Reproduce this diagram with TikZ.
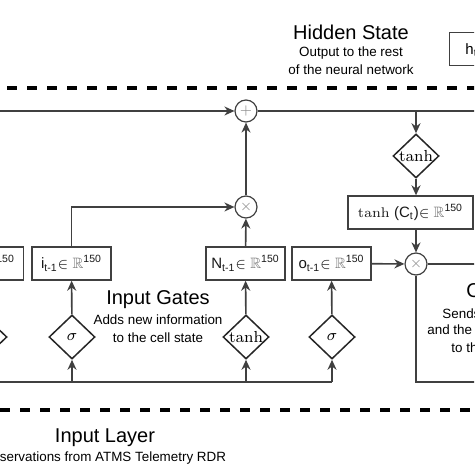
\documentclass[tikz,border=0pt]{standalone}
\usepackage[no-math]{fontspec}
\setmainfont{Liberation Sans}
\usepackage{amssymb}
\usetikzlibrary{shapes.geometric,arrows.meta}
\newcommand{\RR}{{\color{black!55}$\mathbb{R}$}}
\tikzset{
  conn/.style={draw=black!75, line width=0.8pt},
  arr/.style={conn, -{Stealth[length=5pt,width=4.5pt]}},
  sepline/.style={draw=black, line width=2pt, dash pattern=on 5pt off 5pt},
  vbox/.style={draw=black!75, line width=0.7pt, minimum width=39.5pt, minimum height=16.5pt, inner sep=0pt, font=\fontsize{7.5}{9}\selectfont, text=black!90},
  gate/.style={draw=black!85, line width=0.75pt, diamond, minimum width=23pt, minimum height=22pt, inner sep=0pt},
  gatelbl/.style={font=\fontsize{8}{9}\selectfont, inner sep=0pt},
  op/.style={draw=black!75, line width=0.6pt, circle, minimum size=11pt, inner sep=0pt, text=black!45, font=\fontsize{7}{8}\selectfont},
  title/.style={font=\fontsize{10}{12}\selectfont, inner sep=0pt},
  note/.style={font=\fontsize{6.7}{8}\selectfont, inner sep=0pt},
}
\begin{document}
\begin{tikzpicture}[x=0.5pt,y=-0.5pt]
\useasboundingbox (0,0) rectangle (474,474);
\clip (0,0) rectangle (474,474);
\fill[white] (0,0) rectangle (474,474);

% separators
\coordinate (st1) at (-13,88); \coordinate (st2) at (490,88);
\coordinate (sb1) at (-20,410); \coordinate (sb2) at (490,410);
\draw[sepline] (st1) -- (st2);
\draw[sepline] (sb1) -- (sb2);

% titles
\node[title] (hs) at (351,32) {Hidden State};
\node[note] (hs1) at (351,53) {Output to the rest};
\node[note] (hs2) at (351,70) {of the neural network};
\node[draw=black!75, line width=0.7pt, anchor=north west, minimum width=60pt, minimum height=16.5pt] (hbox) at (449,32) {};
\node[font=\fontsize{7.5}{9}\selectfont, anchor=west, inner sep=0pt] (hlbl) at (465,49) {h\textsubscript{t}$\in$ \RR\textsuperscript{150}};

\node[title] (ig1) at (158,300) {Input Gates};
\node[note] (ig2) at (158,320) {Adds new information};
\node[note] (ig3) at (158,338) {to the cell state};

\node[title, anchor=west] (og1) at (466,293) {Output Gates};
\node[note, anchor=west] (og2) at (442,314) {Sends the hidden state};
\node[note, anchor=west] (og3) at (427,330) {and the cell state forward};
\node[note, anchor=west] (og4) at (451,348) {to the next cell};

\node[title] (il1) at (105,438) {Input Layer};
\node[note] (il2) at (104,458) {Observations from ATMS Telemetry RDR};

% operators
\node[op] (plus) at (246,111) {$+$};
\node[op] (mult1) at (246,207) {$\times$};
\node[op] (mult2) at (416,264) {$\times$};

% tanh path
\node[gate] (tg) at (416,156) {};
\node[gatelbl] at (tg) {$\tanh$};
\node[vbox, minimum width=62.5pt] (tbox) at (410.5,212.5) {$\tanh$ (C\textsubscript{t})$\in$ \RR\textsuperscript{150}};

% gate boxes
\node[vbox] (fbox) at (-16,263.5) {f\textsubscript{t-1}$\in$ \RR\textsuperscript{150}};
\node[vbox] (ibox) at (71.5,263.5) {i\textsubscript{t-1}$\in$ \RR\textsuperscript{150}};
\node[vbox] (nbox) at (245.5,263.5) {N\textsubscript{t-1}$\in$ \RR\textsuperscript{150}};
\node[vbox] (obox) at (331.5,263.5) {o\textsubscript{t-1}$\in$ \RR\textsuperscript{150}};

% gates
\node[gate] (fg) at (-16,337) {};
\node[gatelbl] at (fg) {$\sigma$};
\node[gate] (ig) at (72,337) {};
\node[gatelbl] at (ig) {$\sigma$};
\node[gate] (ng) at (246,337) {};
\node[gatelbl] at (ng) {$\tanh$};
\node[gate] (og) at (332,337) {};
\node[gatelbl] at (og) {$\sigma$};

% cell state line
\coordinate (cin) at (-10,111);
\coordinate (cout) at (490,111);
\coordinate (tap) at (416,111);
\draw[arr] (cin) -- (plus);
\draw[conn] (plus) -- (cout);
\draw[arr] (tap) -- (tg.north);
\draw[arr] (tg.south) -- (tg.south |- tbox.north);
\draw[arr] (mult2 |- tbox.south) -- (mult2);
\draw[arr] (obox) -- (mult2);

% output group outline
\coordinate (ocorner) at (416,382);
\coordinate (oright) at (490,382);
\coordinate (oright2) at (490,264);
\draw[conn] (mult2) -- (ocorner) -- (oright);
\draw[conn] (mult2) -- (oright2);

% input gate path
\draw[arr] (ibox.north) |- (mult1);
\draw[arr] (nbox) -- (mult1);
\draw[arr] (mult1) -- (plus);

% gates to boxes
\draw[arr] (fg) -- (fbox);
\draw[arr] (ig) -- (ibox);
\draw[arr] (ng) -- (nbox);
\draw[arr] (og) -- (obox);

% input line
\coordinate (inl) at (-50,382);
\coordinate (inr) at (332,382);
\draw[conn] (inl) -- (inr);
\draw[arr] (fg |- inl) -- (fg);
\draw[arr] (ig |- inl) -- (ig);
\draw[arr] (ng |- inl) -- (ng);
\draw[arr] (og |- inl) -- (og);
\end{tikzpicture}
\end{document}
